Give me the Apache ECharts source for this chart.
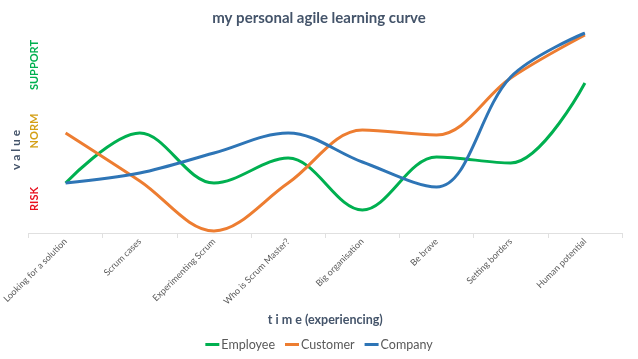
<!DOCTYPE html>
<html><head><meta charset="utf-8">
<script src="https://cdn.jsdelivr.net/npm/echarts@6/dist/echarts.min.js"></script>
<style>html,body{margin:0;padding:0;background:#fff}#c{width:638px;height:359px}</style>
</head><body><div id="c"></div>
<script>
var categories = ["Looking for a solution","Scrum cases","Experimenting Scrum","Who is Scrum Master?","Big organisation","Be brave","Setting borders","Human potential"];
var employee = [2.5, 5.0, 2.5, 3.75, 1.15, 3.8, 3.5, 7.5];
var customer = [5.0, 2.6, 0.1, 2.5, 5.15, 4.9, 7.75, 9.9];
var company  = [2.5, 3.0, 4.0, 5.0, 3.55, 2.3, 7.8, 10.0];
var levelLabels = ["SUPPORT","NORM","RISK"];

var chart = echarts.init(document.getElementById('c'));
var font = 'Lato, "Open Sans", sans-serif';
function ser(name, data, color){
  return {name:name, type:'line', data:data, smooth:0.35, symbol:'none',
    lineStyle:{color:color, width:3}, itemStyle:{color:color}};
}
chart.setOption({
  animation:false,
  title:{text:'my personal agile learning curve', left:'center', top:6,
    textStyle:{fontFamily:font, fontSize:15, fontWeight:'bold', color:'#44546a'}},
  grid:{left:26, right:16, top:33, bottom:126},
  legend:{bottom:3, left:'center', icon:'rect', itemWidth:14, itemHeight:3, itemGap:10,
    textStyle:{fontFamily:font, fontSize:12.5, color:'#595959', padding:[0,0,0,-3]},
    data:['Employee','Customer','Company']},
  xAxis:{type:'category', data:categories, boundaryGap:true,
    axisLine:{lineStyle:{color:'#e0e0e0'}},
    axisTick:{show:true, lineStyle:{color:'#e0e0e0'}},
    axisLabel:{rotate:45, fontFamily:font, fontSize:9, color:'#595959', margin:7, interval:0},
    name:'t i m e (experiencing)', nameLocation:'middle', nameGap:78,
    nameTextStyle:{fontFamily:font, fontSize:12.5, fontWeight:'bold', color:'#44546a'}},
  yAxis:{type:'value', min:0, max:10, interval:2, show:true,
    axisLine:{show:false}, axisTick:{show:false}, axisLabel:{show:false}, splitLine:{show:false}},
  graphic:[
    {type:'text', x:16, y:150, rotation:Math.PI/2, style:{text:'v a l u e', font:'bold 12px '+font, fill:'#44546a', textAlign:'center', textVerticalAlign:'middle'}},
    {type:'text', x:34, y:65, rotation:Math.PI/2, style:{text:levelLabels[0], font:'bold 11px '+font, fill:'#00b050', textAlign:'center', textVerticalAlign:'middle'}},
    {type:'text', x:34, y:131, rotation:Math.PI/2, style:{text:levelLabels[1], font:'bold 11px '+font, fill:'#d4a017', textAlign:'center', textVerticalAlign:'middle'}},
    {type:'text', x:34, y:199, rotation:Math.PI/2, style:{text:levelLabels[2], font:'bold 11px '+font, fill:'#e8101e', textAlign:'center', textVerticalAlign:'middle'}}
  ],
  series:[ser('Employee', employee, '#00b050'), ser('Customer', customer, '#ed7d31'), ser('Company', company, '#2e75b6')]
});
</script></body></html>
